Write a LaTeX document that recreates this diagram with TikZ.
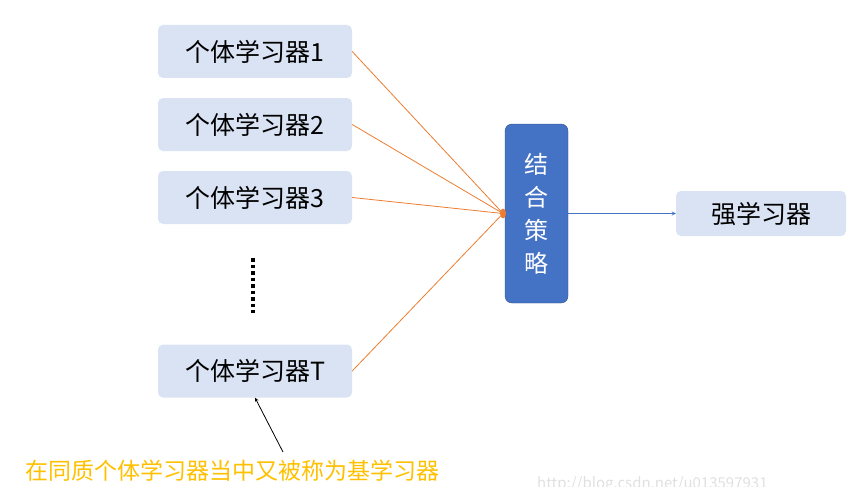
\documentclass[tikz,border=0pt]{standalone}
\usepackage{fontspec}
\setmainfont{Noto Sans CJK SC}
\definecolor{lb}{HTML}{DAE3F3}
\definecolor{db}{HTML}{4472C4}
\definecolor{og}{HTML}{ED7D31}
\definecolor{yl}{HTML}{FFC000}
\begin{document}
\begin{tikzpicture}[x=1pt,y=-1pt,
  lbox/.style={draw=none,fill=lb,rounded corners=5pt,minimum width=194pt,minimum height=53pt,font=\fontsize{25}{28}\selectfont,inner sep=0pt},
  ol/.style={og,line width=0.8pt}]
\useasboundingbox (0,0) rectangle (865,487);
\node[lbox] (b1) at (255,51.5) {个体学习器1};
\node[lbox] (b2) at (255,124.5) {个体学习器2};
\node[lbox] (b3) at (255,197.5) {个体学习器3};
\node[lbox] (bt) at (255,371) {个体学习器T};
\node[draw=db!70!black,fill=db,rounded corners=7pt,minimum width=63pt,minimum height=179pt,text=white,align=center,font=\fontsize{24}{33}\selectfont,inner sep=0pt] (c) at (536.5,213.5) {结\\合\\策\\略};
\node[lbox,minimum width=170pt,minimum height=45pt] (s) at (761,213.5) {强学习器};
\coordinate (j) at (503,213.5);
\foreach \b in {b1,b2,b3,bt} \draw[ol] (\b.east) -- (j);
\fill[og] (j) ellipse (3pt and 5pt);
\draw[db,line width=0.8pt,-stealth] (c.east) -- (s.west);
\draw[line width=4pt,dash pattern=on 3.5pt off 3pt] (253,258) -- (253,313);
\coordinate (a0) at (283,452);
\draw[-stealth,line width=0.8pt] (a0) -- (bt.south);
\node[anchor=west,text=yl,font=\fontsize{23}{26}\selectfont,inner sep=0pt] (t) at (25,471) {在同质个体学习器当中又被称为基学习器};
\node[anchor=west,text=black!12,font=\fontsize{15}{18}\selectfont,inner sep=0pt] (w) at (537,484) {http://blog.csdn.net/u013597931};
\end{tikzpicture}
\end{document}
